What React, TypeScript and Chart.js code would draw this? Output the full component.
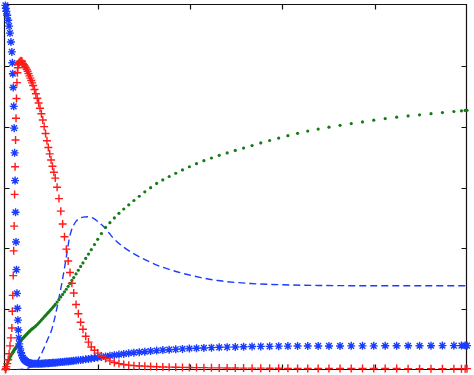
import React, { useEffect, useRef } from "react";
import { Chart, registerables } from "chart.js";

Chart.register(...registerables);

// shared time points of the solution (x axis 0..500)
const T = [
  0, 0.5, 1, 2, 3, 4, 5, 6, 7, 7.5, 8, 8.5, 9, 9.5, 10, 10.5, 11, 11.5, 12, 12.5, 13, 13.5, 14, 14.5, 15, 16, 17, 18,
  19, 20, 21, 22, 23, 24, 25, 26, 27, 28, 29, 30,
  31.5, 33, 34.5, 36, 37.5, 39, 40.5, 42, 43.5, 45, 46.5, 48, 49.5, 51, 52.5, 54,
  56, 58, 60, 62, 64, 66, 68, 70, 72, 74,
  76.5, 79, 81.5, 84, 87, 90, 93, 96.5, 100,
  104, 108.5, 113.2, 118, 123, 128.2, 133.6, 139.2, 145, 151,
  157.3, 163.8, 170.5, 177.4, 184.5, 191.8, 199.3, 207, 215, 223.2,
  231.6, 240.2, 249, 258, 267.2, 276.6, 286.2, 296, 306, 316.5,
  327.5, 338.8, 350.5, 362.5, 374.6, 386.8, 399, 411.4, 423.8, 436.2,
  448.6, 461, 473.4, 485.8, 494, 498, 500,
];

// blue asterisks
const S = [
  600, 595.1, 590.2, 583.7, 575.6, 565.8, 554.4, 539.7, 523.4, 505.4, 487.5, 464.7, 433.7, 397.8, 357.1, 311.4, 259.2, 210.3, 164.7, 125.6, 101.1, 81.5, 65.2, 52.2, 42.4, 34.2, 27.7, 22.8,
  19.6, 17.1, 15.5, 14.2, 13.0, 12.1, 11.4, 10.9, 10.4, 10.1, 9.8, 9.8,
  9.8, 9.8, 9.8, 9.8, 9.8, 9.8, 9.9, 10.1, 10.3, 10.4, 10.6, 10.8, 10.9, 11.1, 11.2, 11.4,
  11.7, 12.1, 12.4, 12.6, 12.9, 13.2, 13.5, 13.9, 14.2, 14.5,
  15.0, 15.5, 15.8, 16.3, 17.0, 17.6, 18.3, 19.1, 19.9,
  20.7, 21.7, 22.8, 23.8, 24.8, 25.8, 26.9, 27.9, 28.7, 29.5,
  30.5, 31.3, 32.1, 32.8, 33.4, 34.1, 34.7, 35.2, 35.7, 36.2,
  36.7, 37.0, 37.3, 37.7, 38.0, 38.2, 38.3, 38.6, 38.7, 38.8,
  38.8, 39.0, 39.0, 39.0, 39.1, 39.1, 39.1, 39.3, 39.3, 39.3,
  39.3, 39.4, 39.5, 39.5, 39.5, 39.5, 39.5,
];

// red pluses
const I = [
  0, 1.6, 4.9, 9.8, 16.3, 26.1, 39.1, 52.2, 68.5, 96.2, 122.3, 154.9, 195.6, 236.4, 288.6, 334.2, 378.3, 414.1, 446.7, 472.8, 489.1, 497.3, 502.2, 504.6, 506.3, 507.9, 508.7, 507.9,
  504.4, 502.5, 500.2, 497.8, 494.7, 491.5, 487.7, 483.9, 480.2, 476.4, 472.3, 468.1,
  461.4, 454.4, 447.1, 439.1, 430.6, 421.5, 411.3, 400.3, 388.9, 376.9, 366.0, 355.4, 345.2, 335.0, 325.1, 315.5,
  300.3, 281.7, 261.0, 239.8, 218.8, 198.4, 178.9, 159.9, 142.3, 126.2,
  107.3, 92.0, 78.1, 66.4, 54.9, 45.3, 37.3, 32.0, 27.2,
  22.5, 18.1, 14.3, 11.7, 9.9, 8.5, 7.3, 6.5, 6.0, 5.7,
  5.2, 4.7, 4.2, 4.0, 3.8, 3.6, 3.4, 3.3, 3.2, 2.9,
  2.8, 2.7, 2.6, 2.5, 2.4, 2.4, 2.3, 2.2, 2.1, 2.0,
  2.0, 2.0, 2.0, 1.9, 1.8, 1.8, 1.8, 1.7, 1.7, 1.6,
  1.6, 1.6, 1.6, 1.6, 1.6, 1.6, 1.6,
];

// green dots
const R = [
  0, 2.3, 4.6, 9.1, 13.2, 16.6, 20.1, 23.0, 25.8, 27.1, 28.4, 29.5, 30.8, 32.1, 33.3, 34.4, 35.5, 36.7, 37.8, 38.8, 39.9, 40.9, 41.9, 43.0, 44.0, 46.1, 48.3, 50.2,
  51.8, 53.5, 55.1, 56.7, 58.4, 59.8, 61.4, 62.9, 64.4, 65.9, 67.2, 68.3,
  70.2, 72.0, 74.3, 76.8, 79.2, 81.7, 84.2, 86.7, 89.2, 91.7, 94.2, 96.7, 99.1, 101.9, 104.5, 107.3,
  111.2, 115.4, 119.7, 123.9, 128.2, 132.4, 137.2, 142.0, 146.9, 151.6,
  157.7, 163.7, 169.9, 175.8, 183.1, 190.3, 197.6, 206.1, 214.6,
  224.2, 234.3, 242.0, 249.9, 257.4, 264.6, 271.5, 278.6, 285.6, 292.8,
  299.7, 306.7, 312.4, 318.1, 323.5, 329.0, 334.2, 339.3, 344.2, 348.6,
  353.0, 356.9, 361.0, 364.9, 369.1, 373.4, 377.4, 381.5, 385.3, 389.3,
  392.9, 396.2, 399.4, 402.5, 405.3, 408.1, 410.9, 413.5, 415.9, 417.9,
  419.7, 421.6, 423.4, 425.2, 426.3, 427.0, 427.2,
];

// blue dashed curve
const TD = [
  0, 11.9, 22.7, 28.1, 33.5, 35.6, 41, 46.4, 49.7, 52.9, 56.2, 58.3, 60.5, 62.6, 64.8, 67, 69.1, 71.3, 73.4, 76.7,
  79.9, 84.2, 89.6, 95, 100.4, 106.9, 112.3, 117.7, 128.5, 139.3, 152.3, 168.5, 193.3, 211.7, 230, 265.7, 301.3, 341.3, 427.7, 500,
];
const D = [
  0, 0, 1.6, 4.9, 11.4, 16.3, 32.6, 52.2, 63.6, 81.5, 104.3, 120.6, 137, 154.9, 174.5, 195.6, 215.2, 228.3, 236.4, 244.6,
  248.6, 251.1, 251.9, 249.5, 243.7, 234.8, 225, 215.2, 201.4, 190.8, 180.2, 169.6, 158.1, 151.6, 146.7, 141.8, 139.7, 138.6, 138.1, 138.1,
];

const X_TICKS = [100, 200, 300, 400];
const Y_TICKS = [100, 200, 300, 400, 500];

const framePlugin = {
  id: "frame",
  beforeDatasetsDraw(chart: any) {
    const { ctx, chartArea, scales } = chart;
    const { left, top, right, bottom } = chartArea;
    const xl = Math.round(left) - 0.5;
    const xr = Math.round(right) - 0.5;
    const yt = Math.round(top) - 0.5;
    const yb = Math.round(bottom) - 0.5;
    ctx.save();
    ctx.strokeStyle = "#111";
    ctx.lineWidth = 1.2;
    ctx.beginPath();
    ctx.rect(xl, yt, xr - xl, yb - yt);
    const L = 5;
    for (const v of X_TICKS) {
      const px = Math.round(scales.x.getPixelForValue(v)) + 0.5;
      ctx.moveTo(px, yb);
      ctx.lineTo(px, yb - L);
      ctx.moveTo(px, yt);
      ctx.lineTo(px, yt + L);
    }
    for (const v of Y_TICKS) {
      const py = Math.round(scales.y.getPixelForValue(v)) + 0.5;
      ctx.moveTo(xl, py);
      ctx.lineTo(xl + L, py);
      ctx.moveTo(xr, py);
      ctx.lineTo(xr - L, py);
    }
    ctx.stroke();
    ctx.restore();
  },
};

export default function App() {
  const ref = useRef<HTMLCanvasElement | null>(null);
  useEffect(() => {
    if (!ref.current) return;
    const pts = (xs: number[], ys: number[]) => xs.map((x, i) => ({ x, y: ys[i] }));
    const chart = new Chart(ref.current, {
      type: "line",
      data: {
        datasets: [
          {
            data: pts(T, I),
            showLine: false,
            pointStyle: "cross",
            pointRadius: 4,
            pointBorderWidth: 1.4,
            pointBorderColor: "#ff1a1a",
            pointBackgroundColor: "#ff1a1a",
            borderColor: "#ff1a1a",
            clip: false,
          },
          {
            data: pts(T, S),
            showLine: false,
            pointStyle: "star",
            pointRadius: 4,
            pointBorderWidth: 1.4,
            pointBorderColor: "#1a3cff",
            pointBackgroundColor: "#1a3cff",
            borderColor: "#1a3cff",
            clip: false,
          },
          {
            data: pts(T, R),
            showLine: false,
            pointStyle: "circle",
            pointRadius: 1.6,
            pointBorderWidth: 0,
            pointBackgroundColor: "#167a16",
            pointBorderColor: "#167a16",
            borderColor: "#167a16",
            clip: false,
          },
          {
            data: pts(TD, D),
            showLine: true,
            pointRadius: 0,
            borderColor: "#1a3cff",
            borderWidth: 1.4,
            borderDash: [7, 4],
            cubicInterpolationMode: "monotone",
            fill: false,
          },
        ],
      },
      options: {
        animation: false,
        responsive: false,
        devicePixelRatio: 1,
        events: [],
        layout: { padding: { left: 4, top: 4, right: 7, bottom: 3 } },
        scales: {
          x: { type: "linear", min: 0, max: 500, display: false },
          y: { type: "linear", min: 0, max: 600, display: false },
        },
        plugins: { legend: { display: false }, tooltip: { enabled: false } },
      },
      plugins: [framePlugin],
    });
    return () => chart.destroy();
  }, []);
  return (
    <div style={{ position: "absolute", left: 0, top: 0, width: 474, height: 375, background: "#fff" }}>
      <canvas ref={ref} width={474} height={375} style={{ display: "block" }} />
    </div>
  );
}
